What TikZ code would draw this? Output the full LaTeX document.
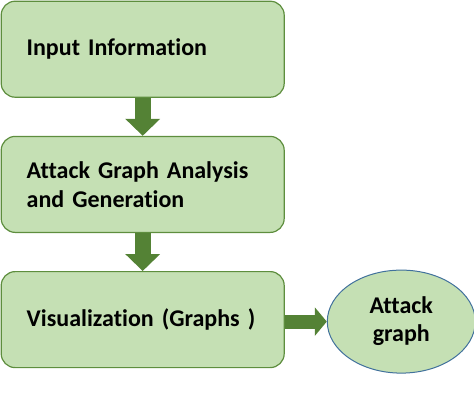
\documentclass[tikz,border=0pt]{standalone}
\usepackage{fontspec}
\setmainfont{Carlito}[Ligatures=NoCommon]
\usepackage{tikz}
\usetikzlibrary{shapes.geometric, arrows.meta, positioning}
\definecolor{boxfill}{HTML}{C5E0B4}
\definecolor{boxline}{HTML}{5E8E3E}
\definecolor{arrowgreen}{HTML}{548235}
\definecolor{ovalline}{HTML}{41719C}
\tikzset{
    stagebox/.style={rectangle, rounded corners=14pt, minimum width=283pt, minimum height=96pt, text width=232pt, inner xsep=25.5pt, align=left, draw=boxline, line width=1.2pt, fill=boxfill, font=\fontsize{24}{29}\selectfont\bfseries},
    resultoval/.style={ellipse, minimum width=148pt, minimum height=103pt, inner sep=0pt, align=center, draw=ovalline, line width=1pt, fill=boxfill, font=\fontsize{24}{28}\selectfont\bfseries},
    downarrow/.style={arrowgreen, line width=16pt, -{Triangle[length=17pt, width=34pt]}},
    sidearrow/.style={arrowgreen, line width=14pt, -{Triangle[length=12pt, width=28pt]}},
}
\begin{document}
\begin{tikzpicture}[x=1pt, y=-1pt]
\useasboundingbox (0,0) rectangle (474,413);

% Stages
\node[stagebox, anchor=north west] (input) at (0.6,0.6) {Input Information};
\node[stagebox, below=38pt of input] (analysis) {Attack Graph Analysis\\and Generation};
\node[stagebox, below=38pt of analysis] (visual) {Visualization (Graphs )};

% Result
\node[resultoval, right=42pt of visual, yshift=-2pt] (graph) {Attack\\graph};

% Flow
\draw[downarrow] (input) -- (analysis);
\draw[downarrow] (analysis) -- (visual);
\draw[sidearrow] (visual.east |- graph.west) -- (graph.west);
\end{tikzpicture}
\end{document}
